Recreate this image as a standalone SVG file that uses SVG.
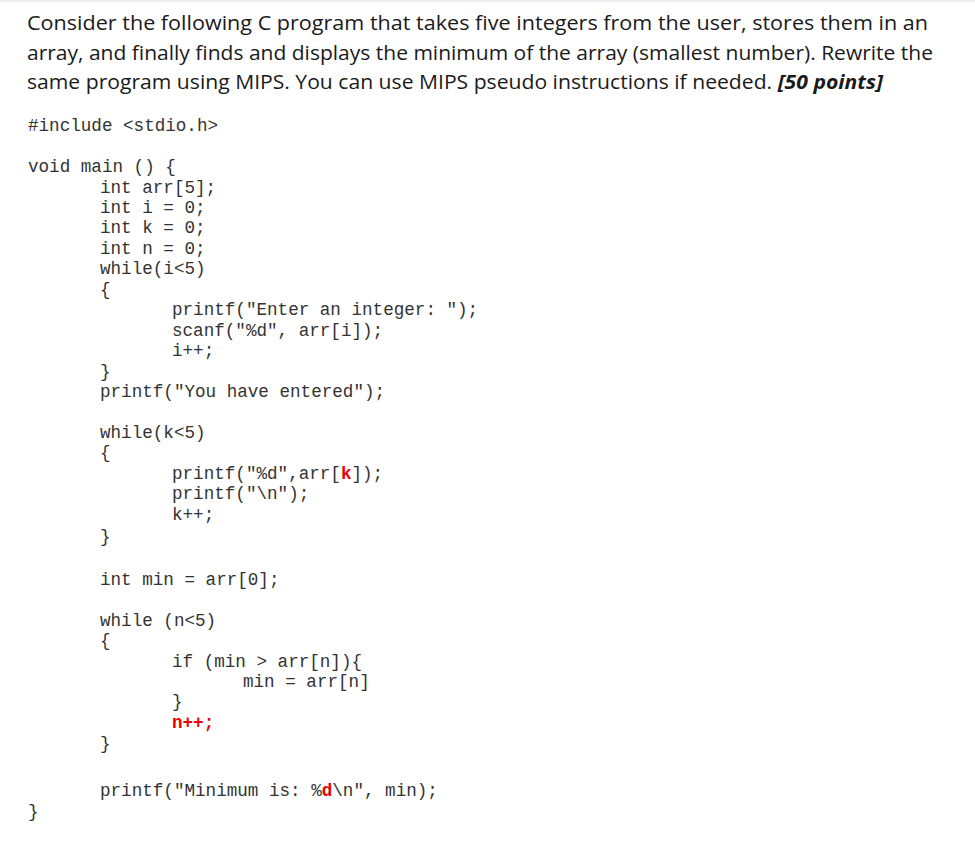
<svg xmlns="http://www.w3.org/2000/svg" width="975" height="842" viewBox="0 0 975 842">
<style>
.h{font-family:"Open Sans","Noto Sans",sans-serif;font-size:20px;fill:#1a1a1a}
.c{font-family:"Liberation Mono",monospace;font-size:17.6px;fill:#333}
.r{fill:#e00;font-weight:bold}
</style>
<rect width="975" height="842" fill="#fff"/>
<line x1="0" y1="1" x2="975" y2="1" stroke="#eee" stroke-width="2"/>
<g id="heading">
<text class="h" x="27" y="30" textLength="901" lengthAdjust="spacingAndGlyphs">Consider the following C program that takes five integers from the user, stores them in an</text>
<text class="h" x="27" y="60" textLength="906" lengthAdjust="spacingAndGlyphs">array, and finally finds and displays the minimum of the array (smallest number). Rewrite the</text>
<text class="h" x="27" y="89" textLength="856" lengthAdjust="spacingAndGlyphs">same program using MIPS. You can use MIPS pseudo instructions if needed. <tspan font-weight="bold" font-style="italic">[50 points]</tspan></text>
</g>
<g id="code">
<text class="c" x="28" y="131">#include &lt;stdio.h&gt;</text>
<text class="c" x="28" y="172">void main () {</text>
<text class="c" x="100" y="193">int arr[5];</text>
<text class="c" x="100" y="213">int i = 0;</text>
<text class="c" x="100" y="233">int k = 0;</text>
<text class="c" x="100" y="254">int n = 0;</text>
<text class="c" x="100" y="274">while(i&lt;5)</text>
<text class="c" x="100" y="295">{</text>
<text class="c" x="172" y="315">printf("Enter an integer: ");</text>
<text class="c" x="172" y="336">scanf("%d", arr[i]);</text>
<text class="c" x="172" y="356">i++;</text>
<text class="c" x="100" y="377">}</text>
<text class="c" x="100" y="397">printf("You have entered");</text>
<text class="c" x="100" y="438">while(k&lt;5)</text>
<text class="c" x="100" y="458">{</text>
<text class="c" x="172" y="479">printf("%d",arr[<tspan class="r">k</tspan>]);</text>
<text class="c" x="172" y="499">printf("\n");</text>
<text class="c" x="172" y="520">k++;</text>
<text class="c" x="100" y="542">}</text>
<text class="c" x="100" y="585">int min = arr[0];</text>
<text class="c" x="100" y="626">while (n&lt;5)</text>
<text class="c" x="100" y="646">{</text>
<text class="c" x="172" y="667">if (min &gt; arr[n]){</text>
<text class="c" x="243" y="687">min = arr[n]</text>
<text class="c" x="172" y="707">}</text>
<text class="c r" x="172" y="728">n++;</text>
<text class="c" x="100" y="749">}</text>
<text class="c" x="100" y="796">printf("Minimum is: %<tspan class="r">d</tspan>\n", min);</text>
<text class="c" x="28" y="817">}</text>
</g>
</svg>
